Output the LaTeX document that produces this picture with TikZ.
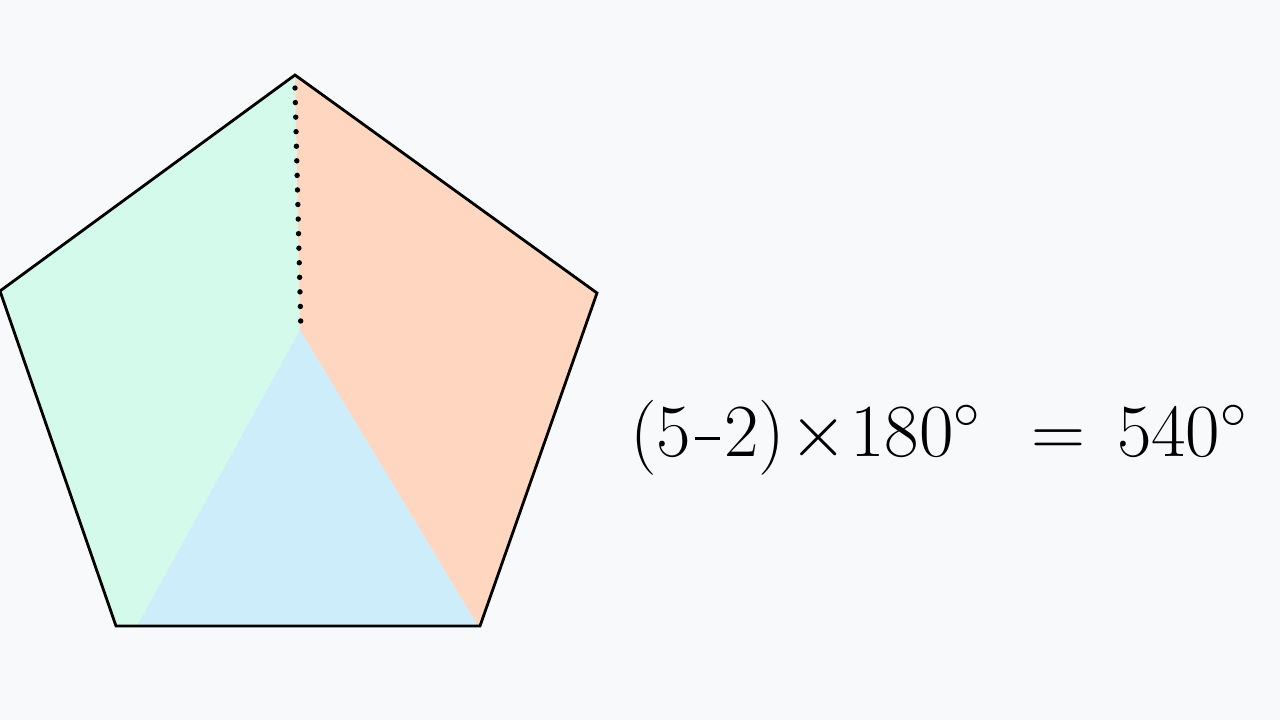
\documentclass[tikz,border=0pt]{standalone}
\usepackage{fix-cm}
\definecolor{bg}{HTML}{F8F9FB}
\definecolor{greenf}{HTML}{D3FAEA}
\definecolor{orangef}{HTML}{FFD6C0}
\definecolor{bluef}{HTML}{CDEDFA}
\tikzset{edge/.style={draw=black,line width=2.8pt,line join=miter},
  dotmark/.style={fill=black}}
\newcommand{\mydash}{\mbox{\makebox[0.44em]{\rule[0.215em]{0.34em}{0.042em}}}}
\begin{document}
\begin{tikzpicture}[x=1pt,y=-1pt]
\fill[bg] (0,0) rectangle (1280,720);
\useasboundingbox (0,0) rectangle (1280,720);
\coordinate (T) at (295,75);
\coordinate (R) at (597,293);
\coordinate (BR) at (480,626);
\coordinate (BL) at (116,626);
\coordinate (L) at (0,291);
\coordinate (C) at (300,330);
\coordinate (B1) at (137,626);
\coordinate (B2) at (478,626);
\fill[greenf] (T) -- (C) -- (B1) -- (BL) -- (L) -- cycle;
\fill[orangef] (T) -- (R) -- (BR) -- (B2) -- (C) -- cycle;
\fill[bluef] (C) -- (B1) -- (B2) -- cycle;
\draw[edge] (T) -- (R) -- (BR) -- (BL) -- (L) -- cycle;
\foreach \i in {0,...,16}
  \fill[dotmark] ({295+5.7*\i/16},{88+233*\i/16}) circle[radius=2.7];
\node[anchor=base west,inner sep=0pt] (eq) at (630,456)
  {\fontsize{75}{90}\selectfont $(5\mydash2)\hspace{4pt}{\times}\hspace{3pt}180^\circ\hspace{51pt}{=}\hspace{32pt}540^\circ$};
\end{tikzpicture}
\end{document}
